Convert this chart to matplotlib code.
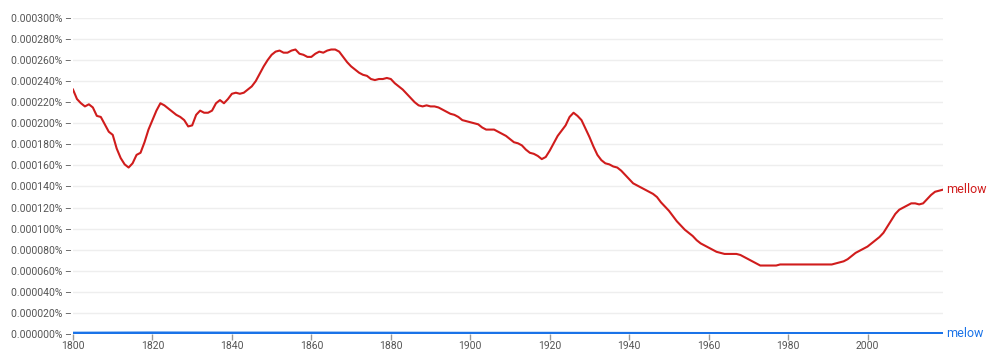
import matplotlib.pyplot as plt
import numpy as np
from matplotlib.ticker import FuncFormatter

plt.rcParams['font.family'] = ['Roboto', 'DejaVu Sans']

# frequencies in units of 1e-6 percent
years = list(range(1800, 2020))
mellow = [
    232, 223, 219, 216, 218, 215, 207, 206, 199, 192,   # 1800s
    189, 176, 167, 161, 158, 162, 170, 172, 182, 194,   # 1810s
    203, 212, 219, 217, 214, 211, 208, 206, 203, 197,   # 1820s
    198, 208, 212, 210, 210, 212, 219, 222, 219, 223,   # 1830s
    228, 229, 228, 229, 232, 235, 240, 247, 254, 260,   # 1840s
    265, 268, 269, 267, 267, 269, 270, 266, 265, 263,   # 1850s
    263, 266, 268, 267, 269, 270, 270, 268, 263, 258,   # 1860s
    254, 251, 248, 246, 245, 242, 241, 242, 242, 243,   # 1870s
    242, 238, 235, 232, 228, 224, 220, 217, 216, 217,   # 1880s
    216, 216, 215, 213, 211, 209, 208, 206, 203, 202,   # 1890s
    201, 200, 199, 196, 194, 194, 194, 192, 190, 188,   # 1900s
    185, 182, 181, 179, 175, 172, 171, 169, 166, 168,   # 1910s
    174, 181, 188, 193, 198, 206, 210, 207, 203, 195,   # 1920s
    187, 178, 170, 165, 162, 161, 159, 158, 155, 151,   # 1930s
    147, 143, 141, 139, 137, 135, 133, 130, 125, 121,   # 1940s
    117, 112, 107, 103, 99, 96, 93, 89, 86, 84,         # 1950s
    82, 80, 78, 77, 76, 76, 76, 76, 75, 73,             # 1960s
    71, 69, 67, 65, 65, 65, 65, 65, 66, 66,             # 1970s
    66, 66, 66, 66, 66, 66, 66, 66, 66, 66,             # 1980s
    66, 66, 67, 68, 69, 71, 74, 77, 79, 81,             # 1990s
    83, 86, 89, 92, 96, 102, 108, 114, 118, 120,        # 2000s
    122, 124, 124, 123, 124, 128, 132, 135, 136, 137,   # 2010s
]
melow_years = [1800, 1820, 1840, 1860, 1880, 1900, 1920, 1940, 1960, 1980, 2000, 2019]
melow = [0.9, 1.1, 1.0, 1.0, 0.9, 0.8, 0.8, 0.7, 0.6, 0.6, 0.6, 0.6]

scale = 1e-6
red = '#d01c1c'
blue = '#1a73e8'

fig = plt.figure(figsize=(10, 3.58), dpi=100)
ax = fig.add_axes([0.073, 0.067, 0.870, 0.883])

ax.plot(years, np.array(mellow) * scale, color=red, lw=1.5)
ax.plot(melow_years, np.array(melow) * scale, color=blue, lw=2)

ax.set_xlim(1800, 2019)
ax.set_ylim(0, 0.0003)
ax.set_yticks(np.arange(0, 0.000301, 0.00002))
ax.set_xticks(range(1800, 2020, 20))
ax.yaxis.set_major_formatter(FuncFormatter(lambda v, p: '%.6f%% –' % v))
ax.tick_params(axis='y', length=0, pad=1, labelsize=7.5, labelcolor='#555555')
ax.tick_params(axis='x', length=4, width=1, color='#999999', pad=1,
               labelsize=7.5, labelcolor='#555555')
ax.grid(axis='y', color='#eeeeee', lw=1)
ax.set_axisbelow(True)
for s in ax.spines.values():
    s.set_visible(False)

ax.text(2019.8, mellow[-1] * scale, 'mellow', color=red, fontsize=9,
        va='center', ha='left', clip_on=False)
ax.text(2019.8, melow[-1] * scale, 'melow', color=blue, fontsize=9,
        va='center', ha='left', clip_on=False)

plt.savefig('out.png', dpi=100)
